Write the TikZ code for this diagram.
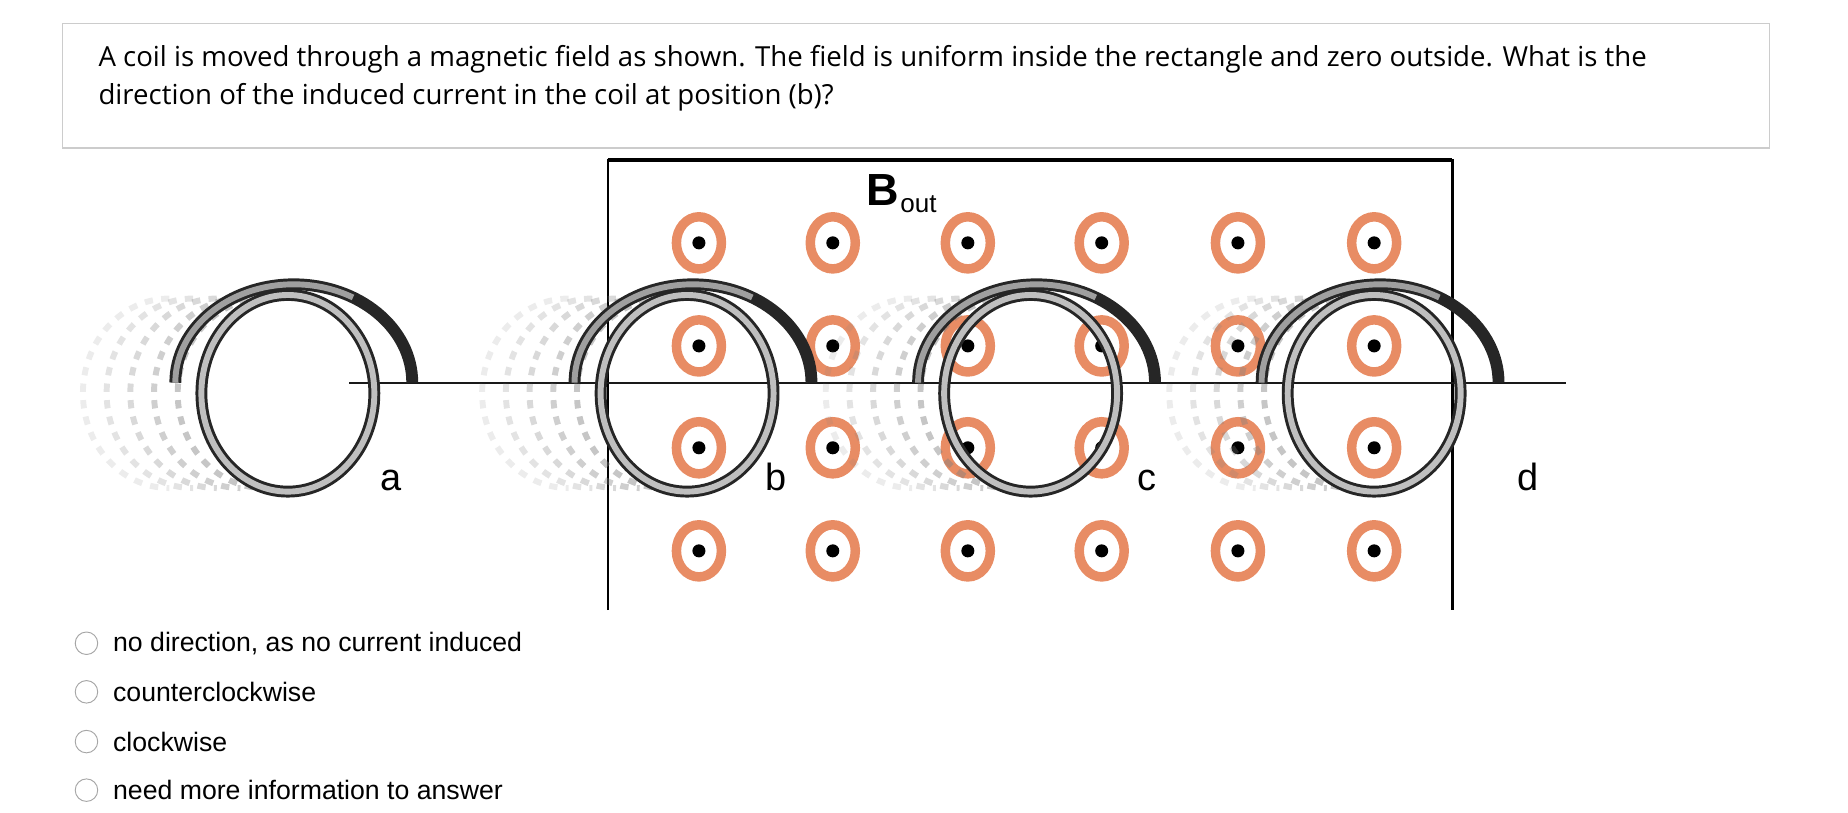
\documentclass[tikz,border=0pt]{standalone}
\usepackage{fontspec}
\setmainfont{Open Sans}
\newfontfamily\helv{Liberation Sans}
\usetikzlibrary{shapes.geometric}
\definecolor{fieldring}{RGB}{232,140,100}
\begin{document}
\begin{tikzpicture}[x=1pt, y=-1pt,
                    field dot/.style={ellipse,draw=fieldring,fill=white,line width=8pt,
                                      minimum width=38pt,minimum height=44pt,inner sep=0pt},
                    pos label/.style={font=\helv\fontsize{32}{32}\selectfont,anchor=south},
                    answer/.style={font=\helv\fontsize{22.5}{26}\selectfont,anchor=west},
                    radio/.style={circle,draw=gray!70,line width=0.8pt,minimum size=19pt,inner sep=0pt}]
  \useasboundingbox (0,0) rectangle (1560,686);

  % question box
  \draw[gray!40, line width=1pt] (53,20) rectangle (1494,125);
  \node[anchor=north west, align=left, inner sep=0pt, font=\fontsize{23.3}{32}\selectfont] (question) at (83,38)
    {A coil is moved through a magnetic field as shown. The field is uniform inside the rectangle and zero outside. What is the\\
     direction of the induced current in the coil at position (b)?};

  % field region
  \draw[line width=2pt] (513,515) -- (513,135) -- (1226,135) -- (1226,515);
  \draw[line width=3.5pt] (513,135) -- (1226,135);
  \node[font=\helv\bfseries\fontsize{38}{38}\selectfont, inner sep=0pt] (B) at (745,160) {B};
  \node[font=\helv\fontsize{22}{22}\selectfont, anchor=west, inner sep=0pt] (Bout) at (B.south east) [yshift=1pt,xshift=1pt] {out};

  % axis
  \coordinate (axisL) at (295,323);
  \coordinate (axisR) at (1322,323);
  \draw[line width=1.8pt, gray!20!black] (axisL) -- (axisR);

  \foreach \x in {590,703,817,930,1045,1160}
    \foreach \y in {205,292,378,465} {
      \node[field dot] (dot-\x-\y) at (\x,\y) {};
      \fill (\x,\y) circle (5.5pt);
    }

  % coils
  \foreach \cx in {243,580,870,1160} {
    \foreach \s/\o in {100/0.15,80/0.22,60/0.3,40/0.38,20/0.45}
      \draw[gray, opacity=\o, line width=5pt, dash pattern=on 7pt off 7pt]
        (\cx-\s,252) arc (270:90:73 and 80);
    \draw[gray!30!black, line width=10pt] (\cx-95,323) arc (180:360:100 and 83);
    \draw[gray!75, line width=5pt] (\cx-95,323) arc (180:300:100 and 83);
    \draw[gray!30!black, line width=10pt] (\cx,332) ellipse (73 and 83);
    \draw[gray!50, line width=5pt] (\cx,332) ellipse (73 and 83);
  }

  \node[pos label] (a) at (330,418) {a};
  \node[pos label] (b) at (655,418) {b};
  \node[pos label] (c) at (968,418) {c};
  \node[pos label] (d) at (1290,418) {d};

  % answers
  \node[radio] (r1) at (73,543) {};
  \node[radio] (r2) at (73,584) {};
  \node[radio] (r3) at (73,626) {};
  \node[radio] (r4) at (73,667) {};
  \node[answer] at (92,543) {no direction, as no current induced};
  \node[answer] at (92,584) {counterclockwise};
  \node[answer] at (92,626) {clockwise};
  \node[answer] at (92,667) {need more information to answer};
\end{tikzpicture}
\end{document}
